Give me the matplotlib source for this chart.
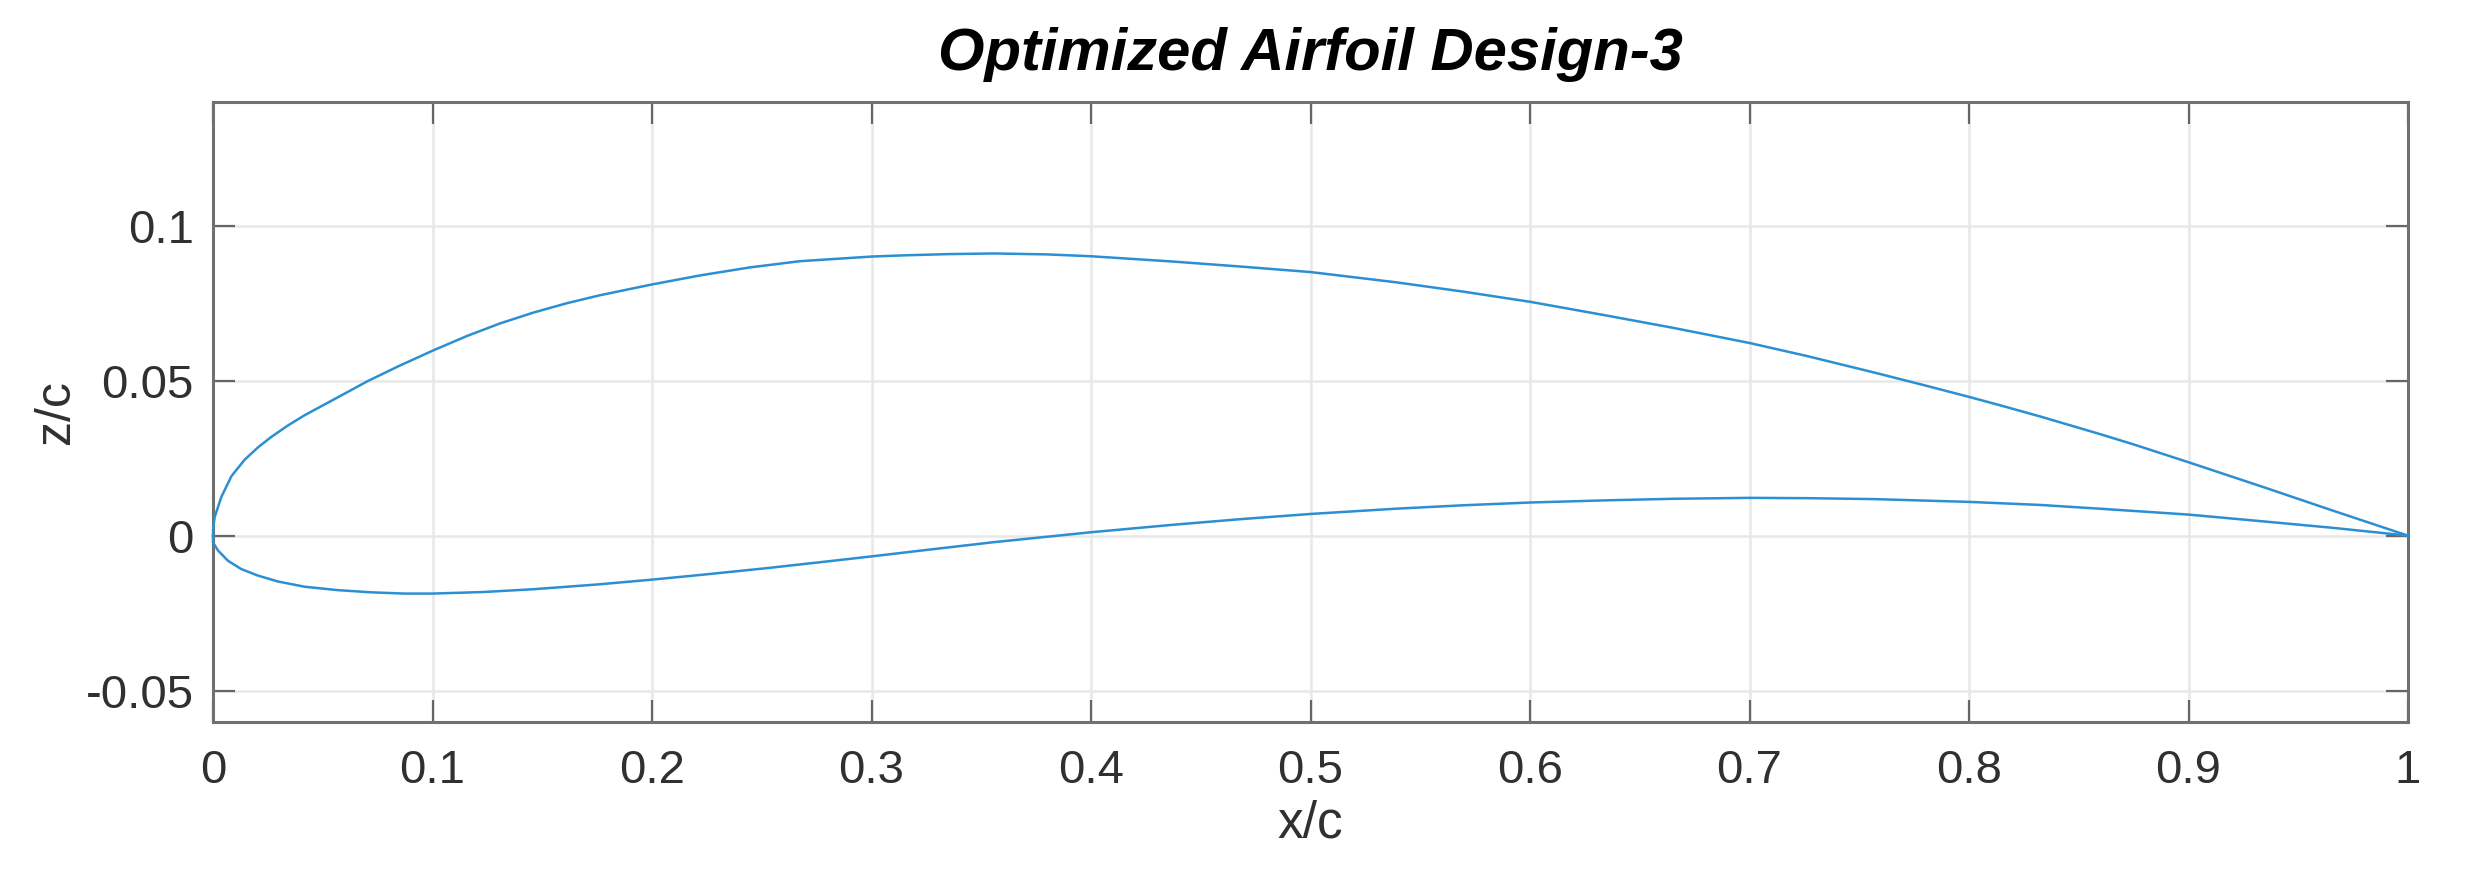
import matplotlib
matplotlib.use('Agg')
import matplotlib.pyplot as plt

# airfoil surfaces
x_upper = [0.0, 0.0001, 0.00076, 0.0038, 0.0084, 0.0144, 0.0205, 0.0266, 0.0342, 0.0418, 0.0554, 0.0705, 0.0851, 0.1, 0.1155, 0.1307, 0.1459,
           0.161, 0.1762, 0.2, 0.2218, 0.2446, 0.2673, 0.3, 0.315, 0.3354, 0.3558, 0.38, 0.4, 0.4372, 0.4677, 0.5, 0.5389, 0.5694, 0.6, 0.6346,
           0.6651, 0.7, 0.7261, 0.7566, 0.7794, 0.8, 0.8141, 0.8328, 0.8596, 0.8748, 0.9, 0.9357, 0.9661, 1.0]
z_upper = [0.0, 0.0027, 0.0060, 0.0125, 0.0192, 0.0245, 0.0285, 0.0319, 0.0356, 0.0389, 0.0441, 0.0499, 0.0549, 0.0597, 0.0644, 0.0685, 0.0720,
           0.0750, 0.0776, 0.0811, 0.0840, 0.0866, 0.0886, 0.0901, 0.0905, 0.0909, 0.0911, 0.0908, 0.0902, 0.0885, 0.0869, 0.0851, 0.0818, 0.0788, 0.0755, 0.0711,
           0.0671, 0.0622, 0.0580, 0.0527, 0.0486, 0.0448, 0.0421, 0.0384, 0.0328, 0.0295, 0.0237, 0.0153, 0.0080, 0.0]
x_lower = [0.0, 0.0, 0.0023, 0.0068, 0.0129, 0.0205, 0.0296, 0.0418, 0.057, 0.0721, 0.0873, 0.1, 0.1231, 0.1459, 0.1762, 0.2, 0.2218, 0.2522,
           0.2826, 0.3, 0.3252, 0.3558, 0.4, 0.4372, 0.4677, 0.5, 0.5389, 0.5694, 0.6, 0.6346, 0.6651, 0.7, 0.7261, 0.7566, 0.8, 0.8328, 0.8596, 0.9, 0.9357, 0.9661, 1.0]
z_lower = [0.0, -0.0022, -0.0048, -0.0081, -0.0108, -0.0129, -0.0148, -0.0165, -0.0176, -0.0183, -0.0187, -0.0187, -0.0182, -0.0173, -0.0157, -0.0142, -0.0127, -0.0105,
           -0.0081, -0.0067, -0.0046, -0.0021, 0.0011, 0.0035, 0.0053, 0.0070, 0.0087, 0.0098, 0.0107, 0.0114, 0.0119, 0.0122, 0.0121, 0.0118, 0.0109, 0.0099, 0.0087, 0.0068, 0.0045, 0.0025, 0.0]

xticks = [0, 0.1, 0.2, 0.3, 0.4, 0.5, 0.6, 0.7, 0.8, 0.9, 1]
xticklabels = ['0', '0.1', '0.2', '0.3', '0.4', '0.5', '0.6', '0.7', '0.8', '0.9', '1']
yticks = [-0.05, 0, 0.05, 0.1]
yticklabels = ['-0.05', '0', '0.05', '0.1']

plt.rcParams['font.family'] = ['Liberation Sans', 'DejaVu Sans']

W, H = 2474, 873
fig = plt.figure(figsize=(W/100, H/100), dpi=100)
ax = fig.add_axes([213/W, 1-721.5/H, (2408-213)/W, (721.5-102)/H])

ax.plot(x_upper, z_upper, color='#2b8fd3', lw=1.8, zorder=3, clip_on=False)
ax.plot(x_lower, z_lower, color='#2b8fd3', lw=1.8, zorder=3, clip_on=False)

ax.set_xlim(0, 1)
ax.set_ylim(-0.06, 0.14)
ax.set_xticks(xticks)
ax.set_xticklabels(xticklabels)
ax.set_yticks(yticks)
ax.set_yticklabels(yticklabels)
ax.grid(True, color='#e8e8e8', lw=1.8)
ax.set_axisbelow(True)
ax.tick_params(direction='in', top=True, right=True, length=16, width=1.6, color='#666666',
               labelsize=34, labelcolor='#303030')
ax.tick_params(axis='x', pad=20)
ax.tick_params(axis='y', pad=14)
for s in ax.spines.values():
    s.set_color('#707070')
    s.set_linewidth(2.2)

ax.set_xlabel('x/c', fontsize=37, color='#303030', labelpad=4.5)
ax.set_ylabel('z/c', fontsize=36, color='#303030', labelpad=4.5)
ax.set_title('Optimized Airfoil Design-3', fontsize=43, fontweight='bold', fontstyle='italic', color='black', pad=23)

fig.savefig('out.png', dpi=100)
